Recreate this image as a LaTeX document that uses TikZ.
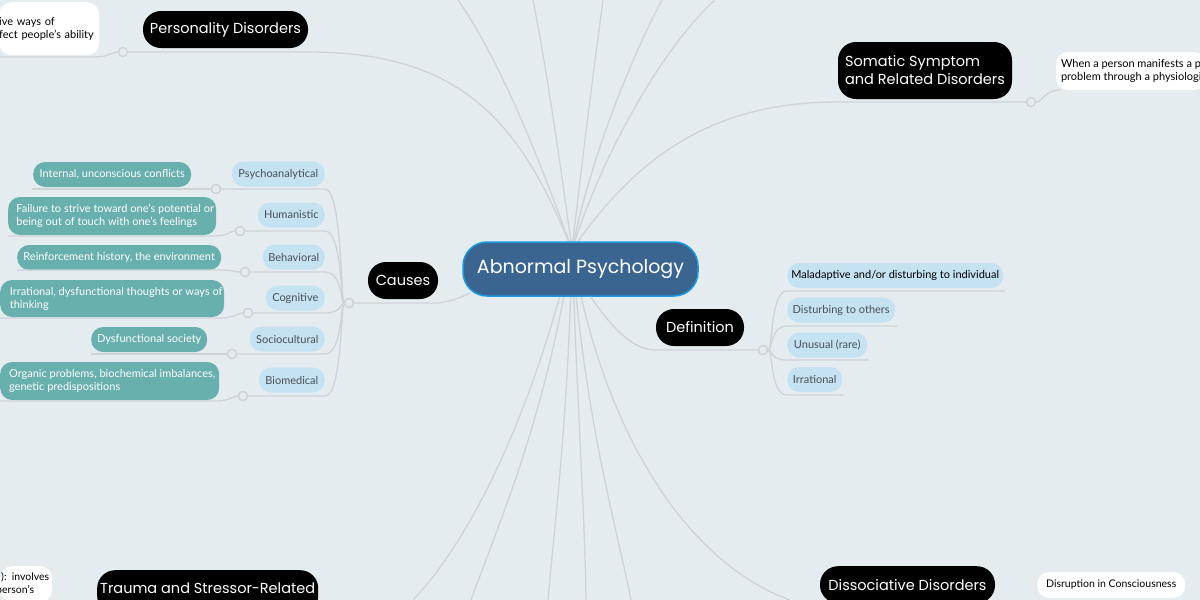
\documentclass[tikz,border=0pt]{standalone}
\usepackage{fontspec}
\setmainfont{Lato}
\newfontfamily\pop{Poppins}
\definecolor{bg}{HTML}{E4ECF0}
\definecolor{ln}{HTML}{CDD3D6}
\definecolor{cblue}{HTML}{3A6590}
\definecolor{cbord}{HTML}{1A9BE0}
\definecolor{pill}{HTML}{C5E2F2}
\definecolor{teal}{HTML}{67B0AD}
\definecolor{gtxt}{HTML}{4A4F55}
\tikzset{
 conn/.style={draw=ln,line width=1.3pt},
 topic/.style={fill=black,text=white,rounded corners=18pt,font=\pop\fontsize{14.5}{18}\selectfont,inner sep=0pt,align=left},
 sub/.style={fill=pill,text=gtxt,rounded corners=12pt,font=\fontsize{11}{13}\selectfont,inner sep=0pt},
 leaf/.style={fill=teal,text=white,rounded corners=12pt,font=\fontsize{11}{13}\selectfont,inner sep=0pt,align=left},
 wleaf/.style={fill=white,text=black,rounded corners=12pt,font=\fontsize{11}{13}\selectfont,inner sep=0pt,align=left},
 knob/.style={circle,draw=ln,fill=bg,line width=1.3pt,minimum size=9pt,inner sep=0pt},
 sz/.style 2 args={minimum width=#1,minimum height=#2},
}
\begin{document}
\begin{tikzpicture}[x=1pt,y=-1pt]
\fill[bg] (0,0) rectangle (1200,600);
\useasboundingbox (0,0) rectangle (1200,600);
% hidden anchors
\coordinate (hub) at (572,250);
\coordinate (t1) at (458,0); \coordinate (t2) at (533,0); \coordinate (t3) at (603,0);
\coordinate (t4) at (662,0); \coordinate (t5) at (715,0);
\coordinate (b1) at (413,600); \coordinate (b2) at (471,600); \coordinate (b3) at (548,600);
\coordinate (b4) at (586,600); \coordinate (b5) at (631,600);
% fan lines
\draw[conn] (hub) .. controls (540,160) and (500,60) .. (t1);
\draw[conn] (hub) .. controls (560,160) and (545,60) .. (t2);
\draw[conn] (hub) .. controls (582,160) and (595,60) .. (t3);
\draw[conn] (hub) .. controls (590,160) and (630,60) .. (t4);
\draw[conn] (hub) .. controls (600,160) and (660,50) .. (t5);
\draw[conn] (hub) .. controls (530,420) and (470,540) .. (b1);
\draw[conn] (hub) .. controls (545,420) and (500,520) .. (b2);
\draw[conn] (hub) .. controls (568,420) and (555,520) .. (b3);
\draw[conn] (hub) .. controls (578,420) and (585,520) .. (b4);
\draw[conn] (hub) .. controls (585,420) and (615,520) .. (b5);

% Personality Disorders
\node[topic,sz={165pt}{37pt}] (pd) at (225.5,29.5) {Personality Disorders};
\node[knob] (kpd) at (123,52) {};
\node[wleaf,minimum height=53pt,text width=100pt,anchor=north west] (pdl) at (-1,2) {ive ways of\\fect people's ability\\[6pt]};
\draw[conn] (hub) .. controls (520,120) and (460,52) .. (308,52) -- (kpd);
\draw[conn] (kpd) .. controls (112,52) and (108,57) .. (95,57) -- (0,57);

% Somatic
\node[topic,sz={174pt}{57pt}] (som) at (925,70.5) {Somatic Symptom\\and Related Disorders};
\node[knob] (ksom) at (1031,102) {};
\node[wleaf,sz={150pt}{38pt},anchor=west] (soml) at (1056,71) {When a person manifests a p\\problem through a physiologi};
\draw[conn] (hub) .. controls (640,150) and (720,102) .. (838,102) -- (ksom);
\draw[conn] (ksom) .. controls (1042,102) and (1045,90) .. (1060,90);

% Dissociative
\node[topic,sz={175pt}{37pt},anchor=north] (dis) at (907.5,566) {Dissociative Disorders};
\node[wleaf,sz={148pt}{26pt},anchor=west,font=\fontsize{10.5}{12}\selectfont] (disl) at (1037,585) {Disruption in Consciousness};
\draw[conn] (hub) .. controls (600,420) and (680,560) .. (790,600);

% Trauma
\node[topic,sz={221pt}{44pt},anchor=north west,text depth=9pt] (tra) at (97,570) {Trauma and Stressor-Related};
\node[wleaf,minimum height=36pt,text width=52pt,anchor=north west,font=\fontsize{10.5}{13}\selectfont] (tral) at (0,566) {\hspace*{1pt}): involves\\\hspace*{-4pt}person's};

% central
\node[fill=cblue,draw=cbord,line width=1.5pt,rounded corners=24pt,sz={235pt}{54pt},text=white,font=\pop\fontsize{19}{22}\selectfont] (cen) at (580.5,269) {Abnormal Psychology};

% Causes
\node[topic,sz={70pt}{37pt}] (cau) at (403,280.5) {Causes};
\node[knob] (kc) at (349,303) {};
\draw[conn] (cen.south west) ++(8,-4) .. controls (455,300) .. (438,303) -- (kc);

\foreach \n/\t/\w/\cy/\ky/\kx in {ps/Psychoanalytical/93/174/189/216, hu/Humanistic/67/215/231/240, be/Behavioral/62/257/272/245, co/Cognitive/59/298/313/248, so/Sociocultural/75/339/354/232, bi/Biomedical/66/380/396/243}{
  \node[sub,sz={\w pt}{25pt},anchor=east] (\n) at (325,\cy) {\t};
  \node[knob] (k\n) at (\kx,\ky) {};
  \draw[conn] (kc) .. controls (341,303) and (342,\ky) .. (325,\ky) -- (k\n);
}
\node[leaf,sz={158pt}{25pt},anchor=west,align=center] (l1) at (33,174.5) {Internal, unconscious conflicts};
\node[leaf,sz={208pt}{38pt},anchor=west] (l2) at (8,216) {\hspace*{6pt}Failure to strive toward one's potential or\\\hspace*{6pt}being out of touch with one's feelings};
\node[leaf,sz={204pt}{25pt},anchor=west,align=center] (l3) at (17,257.5) {Reinforcement history, the environment};
\node[leaf,sz={224pt}{37pt},anchor=west] (l4) at (0,298.5) {\hspace*{8pt}Irrational, dysfunctional thoughts or ways of\\\hspace*{8pt}thinking};
\node[leaf,sz={116pt}{25pt},anchor=west,align=center] (l5) at (91,339.5) {Dysfunctional society};
\node[leaf,sz={219pt}{38pt},anchor=west] (l6) at (0,381) {\hspace*{5pt}Organic problems, biochemical imbalances,\\\hspace*{5pt}genetic predispositions};
\draw[conn] (kps) -- (32,189);
\draw[conn] (khu) .. controls (230,231) and (228,236) .. (215,236) -- (8,236);
\draw[conn] (kbe) .. controls (236,272) and (232,270) .. (220,270) -- (17,270);
\draw[conn] (kco) .. controls (238,313) and (234,318) .. (222,318) -- (0,318);
\draw[conn] (kso) -- (91,354);
\draw[conn] (kbi) .. controls (233,396) and (229,401) .. (217,401) -- (0,401);
\foreach \k in {kps,khu,kbe,kco,kso,kbi} \node[knob] at (\k) {};

% Definition
\node[topic,sz={88pt}{37pt}] (def) at (700,327.5) {Definition};
\node[knob] (kd) at (763,350) {};
\draw[conn] (cen.south) ++(10,0) .. controls (620,340) and (640,350) .. (656,350) -- (kd);
\node[sub,sz={216pt}{25pt},anchor=west,text=black] (d1) at (787,275.5) {Maladaptive and/or disturbing to individual};
\node[sub,sz={108pt}{25pt},anchor=west] (d2) at (787,310) {Disturbing to others};
\node[sub,sz={80pt}{25pt},anchor=west] (d3) at (787,345) {Unusual (rare)};
\node[sub,sz={55pt}{25pt},anchor=west] (d4) at (787,379.5) {Irrational};
\foreach \y/\e in {291/1005, 326/897, 360/868, 395/843}{
  \draw[conn] (kd) .. controls (773,350) and (770,\y) .. (787,\y) -- (\e,\y);
}
\node[knob] at (kd) {};
\node[knob] at (kc) {};
\end{tikzpicture}
\end{document}
